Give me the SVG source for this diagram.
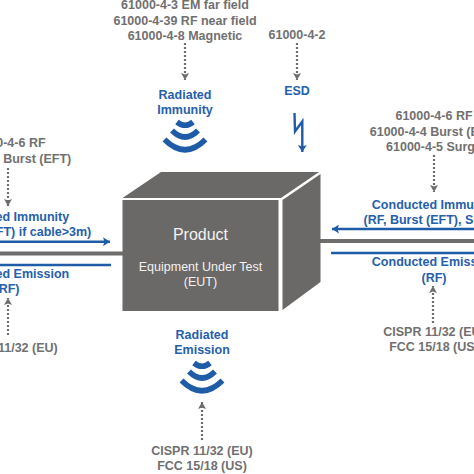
<svg xmlns="http://www.w3.org/2000/svg" width="474" height="474" viewBox="0 0 474 474">
<style>
text{font-family:"Liberation Sans",Arial,sans-serif;text-anchor:middle}
.g{font-size:12.500px;font-weight:700;fill:#717070}
.b{font-size:12.500px;font-weight:700;fill:#2560ab}
.w{fill:#f2f2f2}
.dot{fill:none;stroke:#6f6d6c;stroke-width:2.200;stroke-dasharray:2 2}
.bl{fill:none;stroke:#1f5ca8;stroke-width:2.400}
.arc{fill:none;stroke:#1f5ca8;stroke-width:5.500}
.cable{stroke:#6f6d6c;stroke-width:4;fill:none}
</style>
<defs>
<marker id="ga" markerUnits="userSpaceOnUse" markerWidth="9" markerHeight="8" refX="7" refY="4" orient="auto"><path d="M0 0L7 4L0 8L1.500 4Z" fill="#6f6d6c"/></marker>
<marker id="ba" markerUnits="userSpaceOnUse" markerWidth="9" markerHeight="9" refX="7" refY="4.500" orient="auto"><path d="M0 0L7 4.500L0 9L1.500 4.500Z" fill="#1f5ca8"/></marker>
<g id="wave"><path class="arc" d="M164.500 139.500Q185 160 205.500 139.500"/><path class="arc" d="M172 130.500Q185 143.500 198 130.500"/><path class="arc" d="M177 122Q185 128.500 193 122"/></g>
</defs>
<g id="connectors">
<path class="cable" d="M0 253.500H123"/>
<path class="cable" d="M319 241H474"/>
<path class="bl" d="M0 241.700H110" marker-end="url(#ba)"/>
<path class="bl" d="M0 265H111"/>
<path class="bl" d="M474 229H332" marker-end="url(#ba)"/>
<path class="bl" d="M331 253H474"/>
<path class="dot" d="M185 43V80" marker-end="url(#ga)"/>
<path class="dot" d="M297 43V80" marker-end="url(#ga)"/>
<path class="dot" d="M8 168V206" marker-end="url(#ga)"/>
<path class="dot" d="M434 155V192" marker-end="url(#ga)"/>
<path class="dot" d="M8 335V298" marker-end="url(#ga)"/>
<path class="dot" d="M433 323V286" marker-end="url(#ga)"/>
<path class="dot" d="M202 440V402" marker-end="url(#ga)"/>
</g>
<g id="product">
<path d="M122.500 198L161 172H319L281 198Z" fill="#6b6967"/>
<path d="M282.500 200L320.500 174V282L282.500 310Z" fill="#6b6967"/>
<rect x="122.500" y="200" width="156" height="111" fill="#6b6967"/>
<text class="w" x="200.500" y="239.500" font-size="16">Product</text>
<text class="w" x="200.500" y="271" font-size="12.500">Equipment Under Test</text>
<text class="w" x="200.500" y="286" font-size="12.500">(EUT)</text>
</g>
<g id="radiated-immunity">
<text class="g" x="185" y="9">61000-4-3 EM far field</text>
<text class="g" x="185" y="24.500">61000-4-39 RF near field</text>
<text class="g" x="185" y="40">61000-4-8 Magnetic</text>
<text class="b" x="185" y="99">Radiated</text>
<text class="b" x="185" y="114">Immunity</text>
<use href="#wave"/>
</g>
<g id="esd">
<text class="g" x="297" y="39">61000-4-2</text>
<text class="b" x="297" y="95">ESD</text>
<path class="bl" d="M294.500 113L295 131.500L302.300 121.500V152" marker-end="url(#ba)"/>
</g>
<g id="conducted-left">
<text class="g" x="7" y="147">61000-4-6 RF</text>
<text class="g" x="7" y="163">61000-4-4 Burst (EFT)</text>
<text class="b" x="7" y="221">Conducted Immunity</text>
<text class="b" x="6" y="236">(RF, Burst (EFT) if cable&gt;3m)</text>
<text class="b" x="7" y="278">Conducted Emission</text>
<text class="b" x="7" y="293">(RF)</text>
<text class="g" x="7" y="352">CISPR 11/32 (EU)</text>
</g>
<g id="conducted-right">
<text class="g" x="434" y="120">61000-4-6 RF</text>
<text class="g" x="434" y="136">61000-4-4 Burst (EFT)</text>
<text class="g" x="434" y="151">61000-4-5 Surge</text>
<text class="b" x="434" y="209">Conducted Immunity</text>
<text class="b" x="434" y="224">(RF, Burst (EFT), Surge)</text>
<text class="b" x="434" y="266">Conducted Emission</text>
<text class="b" x="434" y="282">(RF)</text>
<text class="g" x="434" y="336">CISPR 11/32 (EU)</text>
<text class="g" x="434" y="351">FCC 15/18 (US)</text>
</g>
<g id="radiated-emission">
<text class="b" x="202" y="339">Radiated</text>
<text class="b" x="202" y="354">Emission</text>
<use href="#wave" transform="translate(17 241)"/>
<text class="g" x="202" y="455">CISPR 11/32 (EU)</text>
<text class="g" x="202" y="470">FCC 15/18 (US)</text>
</g>
</svg>
